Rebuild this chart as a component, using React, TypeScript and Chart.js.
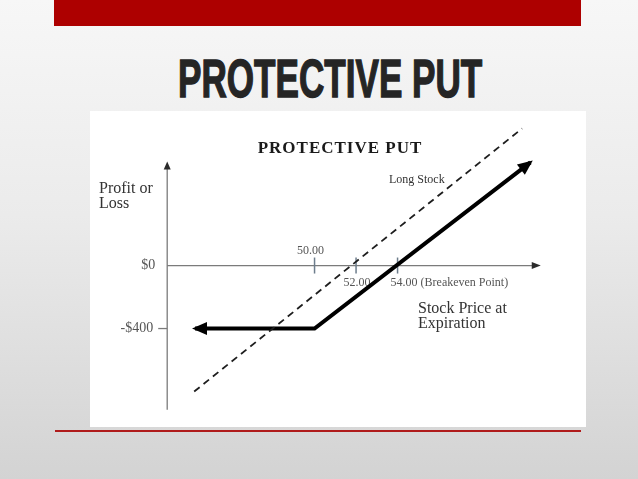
import React, { useEffect, useLayoutEffect, useRef, useState } from "react";
import { Chart, registerables } from "chart.js";

Chart.register(...registerables);

// ---- text ----
const slideTitle = "PROTECTIVE PUT";
const chartTitle = "PROTECTIVE PUT";
const yAxisTitle = ["Profit or", "Loss"];
const xAxisTitle = ["Stock Price at", "Expiration"];
const longStockLabel = "Long Stock";

// ---- ticks ----
const xTickValues = [50, 52, 54];
const xTickLabels = ["50.00", "52.00", "54.00 (Breakeven Point)"];
const yTickValues = [0, -400];
const yTickLabels = ["$0", "-$400"];

// ---- series ----
const protectivePutPrice = [44.24, 50, 60.4];
const protectivePutPL = [-400, -400, 655];
const longStockPrice = [44.2, 60];
const longStockPL = [-800, 870];

// ---- axis ranges / extents (data units) ----
const xRange = [39.18, 63.08];
const yRange = [-1025, 981];
const yAxisCrossing = 42.9;
const yAxisExtent = [-915, 660];
const xAxisExtent = [42.9, 60.9];

function arrowHead(
  ctx: CanvasRenderingContext2D,
  tx: number,
  ty: number,
  fx: number,
  fy: number,
  len: number,
  hw: number,
  color: string
) {
  const a = Math.atan2(ty - fy, tx - fx);
  ctx.save();
  ctx.translate(tx, ty);
  ctx.rotate(a);
  ctx.fillStyle = color;
  ctx.beginPath();
  ctx.moveTo(0, 0);
  ctx.lineTo(-len, hw);
  ctx.lineTo(-len, -hw);
  ctx.closePath();
  ctx.fill();
  ctx.restore();
}

const SERIF = '"Liberation Serif", "Times New Roman", serif';

const payoffPlugin = {
  id: "payoffDecor",
  beforeDatasetsDraw(chart: any) {
    const ctx: CanvasRenderingContext2D = chart.ctx;
    const xs = chart.scales.x;
    const ys = chart.scales.y;
    const px = (v: number) => xs.getPixelForValue(v);
    const py = (v: number) => ys.getPixelForValue(v);
    const ax = px(yAxisCrossing);
    const y0 = py(0);
    ctx.save();

    // axes
    ctx.strokeStyle = "#7b7b7b";
    ctx.lineWidth = 1.3;
    ctx.beginPath();
    ctx.moveTo(ax, py(yAxisExtent[0]));
    ctx.lineTo(ax, py(yAxisExtent[1]) + 4);
    ctx.stroke();
    ctx.beginPath();
    ctx.moveTo(px(xAxisExtent[0]), y0);
    ctx.lineTo(px(xAxisExtent[1]) - 4, y0);
    ctx.stroke();
    arrowHead(ctx, ax, py(yAxisExtent[1]), ax, py(yAxisExtent[1]) + 10, 8, 3.5, "#2b2b2b");
    arrowHead(ctx, px(xAxisExtent[1]), y0, px(xAxisExtent[1]) - 10, y0, 9, 3.5, "#2b2b2b");

    // y ticks
    ctx.font = `14px ${SERIF}`;
    ctx.fillStyle = "#555";
    ctx.textBaseline = "middle";
    ctx.textAlign = "right";
    yTickValues.forEach((v, i) => {
      const yy = py(v);
      if (v !== 0) {
        ctx.strokeStyle = "#7b7b7b";
        ctx.lineWidth = 1.3;
        ctx.beginPath();
        ctx.moveTo(ax - 9, yy);
        ctx.lineTo(ax, yy);
        ctx.stroke();
      }
      ctx.fillText(yTickLabels[i], ax - (v === 0 ? 12 : 14), yy);
    });

    // x ticks
    ctx.font = `12px ${SERIF}`;
    xTickValues.forEach((v, i) => {
      const xx = px(v);
      ctx.strokeStyle = "#6d7d8c";
      ctx.lineWidth = 1.5;
      ctx.beginPath();
      ctx.moveTo(xx, y0 - 8);
      ctx.lineTo(xx, y0 + 8);
      ctx.stroke();
      ctx.fillStyle = "#555";
      if (i === 0) {
        ctx.textAlign = "center";
        ctx.fillText(xTickLabels[i], xx - 4, y0 - 15);
      } else if (i === xTickValues.length - 1) {
        ctx.textAlign = "left";
        ctx.fillText(xTickLabels[i], xx - 7, y0 + 17);
      } else {
        ctx.textAlign = "center";
        ctx.fillText(xTickLabels[i], xx + 1, y0 + 17);
      }
    });

    // chart title
    const area = chart.chartArea;
    ctx.fillStyle = "#1a1a1a";
    ctx.font = `bold 17px ${SERIF}`;
    (ctx as any).letterSpacing = "1px";
    ctx.textAlign = "center";
    ctx.fillText(chartTitle, (area.left + area.right) / 2 + 2, area.top + 38);
    (ctx as any).letterSpacing = "0px";

    // axis titles and label
    ctx.fillStyle = "#333";
    ctx.textAlign = "left";
    ctx.font = `16px ${SERIF}`;
    yAxisTitle.forEach((t, i) => ctx.fillText(t, area.left + 9, area.top + 78 + i * 15));
    xAxisTitle.forEach((t, i) => ctx.fillText(t, area.left + 328, area.top + 198 + i * 15));
    ctx.font = `12px ${SERIF}`;
    ctx.fillText(longStockLabel, area.left + 299, area.top + 69);

    ctx.restore();
  },
  afterDatasetsDraw(chart: any) {
    const ctx: CanvasRenderingContext2D = chart.ctx;
    const pts = chart.getDatasetMeta(1).data;
    if (!pts || pts.length < 2) return;
    const ends = [
      [pts[0], pts[1]],
      [pts[pts.length - 1], pts[pts.length - 2]],
    ];
    ends.forEach(([tip, from]: any) => {
      const dx = tip.x - from.x;
      const dy = tip.y - from.y;
      const d = Math.hypot(dx, dy) || 1;
      const tx = tip.x + (dx / d) * 3;
      const ty = tip.y + (dy / d) * 3;
      arrowHead(ctx, tx, ty, from.x, from.y, 15, 6.5, "#000");
    });
  },
};

function PayoffChart() {
  const ref = useRef<HTMLCanvasElement>(null);
  useEffect(() => {
    if (!ref.current) return;
    const chart = new Chart(ref.current, {
      type: "scatter",
      data: {
        datasets: [
          {
            label: "Long Stock",
            data: longStockPrice.map((x, i) => ({ x, y: longStockPL[i] })),
            showLine: true,
            borderColor: "#1e1e1e",
            borderWidth: 1.8,
            borderDash: [7, 5],
            pointRadius: 0,
            fill: false,
          },
          {
            label: "Protective Put",
            data: protectivePutPrice.map((x, i) => ({ x, y: protectivePutPL[i] })),
            showLine: true,
            borderColor: "#000",
            borderWidth: 4,
            borderJoinStyle: "miter",
            pointRadius: 0,
            fill: false,
          },
        ],
      },
      options: {
        responsive: false,
        animation: false,
        layout: { padding: 0 },
        plugins: { legend: { display: false }, tooltip: { enabled: false }, title: { display: false } },
        scales: {
          x: { type: "linear", min: xRange[0], max: xRange[1], display: false },
          y: { type: "linear", min: yRange[0], max: yRange[1], display: false },
        },
      } as any,
      plugins: [payoffPlugin],
    } as any);
    return () => chart.destroy();
  }, []);
  return <canvas ref={ref} width={496} height={316} style={{ display: "block" }} />;
}

export default function App() {
  const titleRef = useRef<HTMLSpanElement>(null);
  const [sx, setSx] = useState(0.75);
  useLayoutEffect(() => {
    if (titleRef.current) {
      const w = titleRef.current.offsetWidth;
      if (w > 0) setSx(304 / w);
    }
  }, []);
  return (
    <div
      style={{
        position: "fixed",
        left: 0,
        top: 0,
        width: 638,
        height: 479,
        overflow: "hidden",
        background: "linear-gradient(to bottom, #f7f7f7 0%, #ebebeb 45%, #d3d3d3 100%)",
      }}
    >
      <div style={{ position: "absolute", left: 54, top: 0, width: 527, height: 26, background: "#ad0000" }} />
      <div style={{ position: "absolute", left: 178, top: 52, lineHeight: "54px", whiteSpace: "nowrap" }}>
        <span
          ref={titleRef}
          style={{
            display: "inline-block",
            fontFamily: '"Liberation Sans Narrow", "Liberation Sans", Arial, sans-serif',
            fontWeight: "bold",
            fontSize: 53,
            color: "#252525",
            WebkitTextStroke: "1.4px #252525",
            transform: `scaleX(${sx})`,
            transformOrigin: "left center",
          }}
        >
          {slideTitle}
        </span>
      </div>
      <div style={{ position: "absolute", left: 90, top: 111, width: 496, height: 316, background: "#fff" }}>
        <PayoffChart />
      </div>
      <div style={{ position: "absolute", left: 55, top: 430, width: 526, height: 2, background: "#b01c1c" }} />
    </div>
  );
}
